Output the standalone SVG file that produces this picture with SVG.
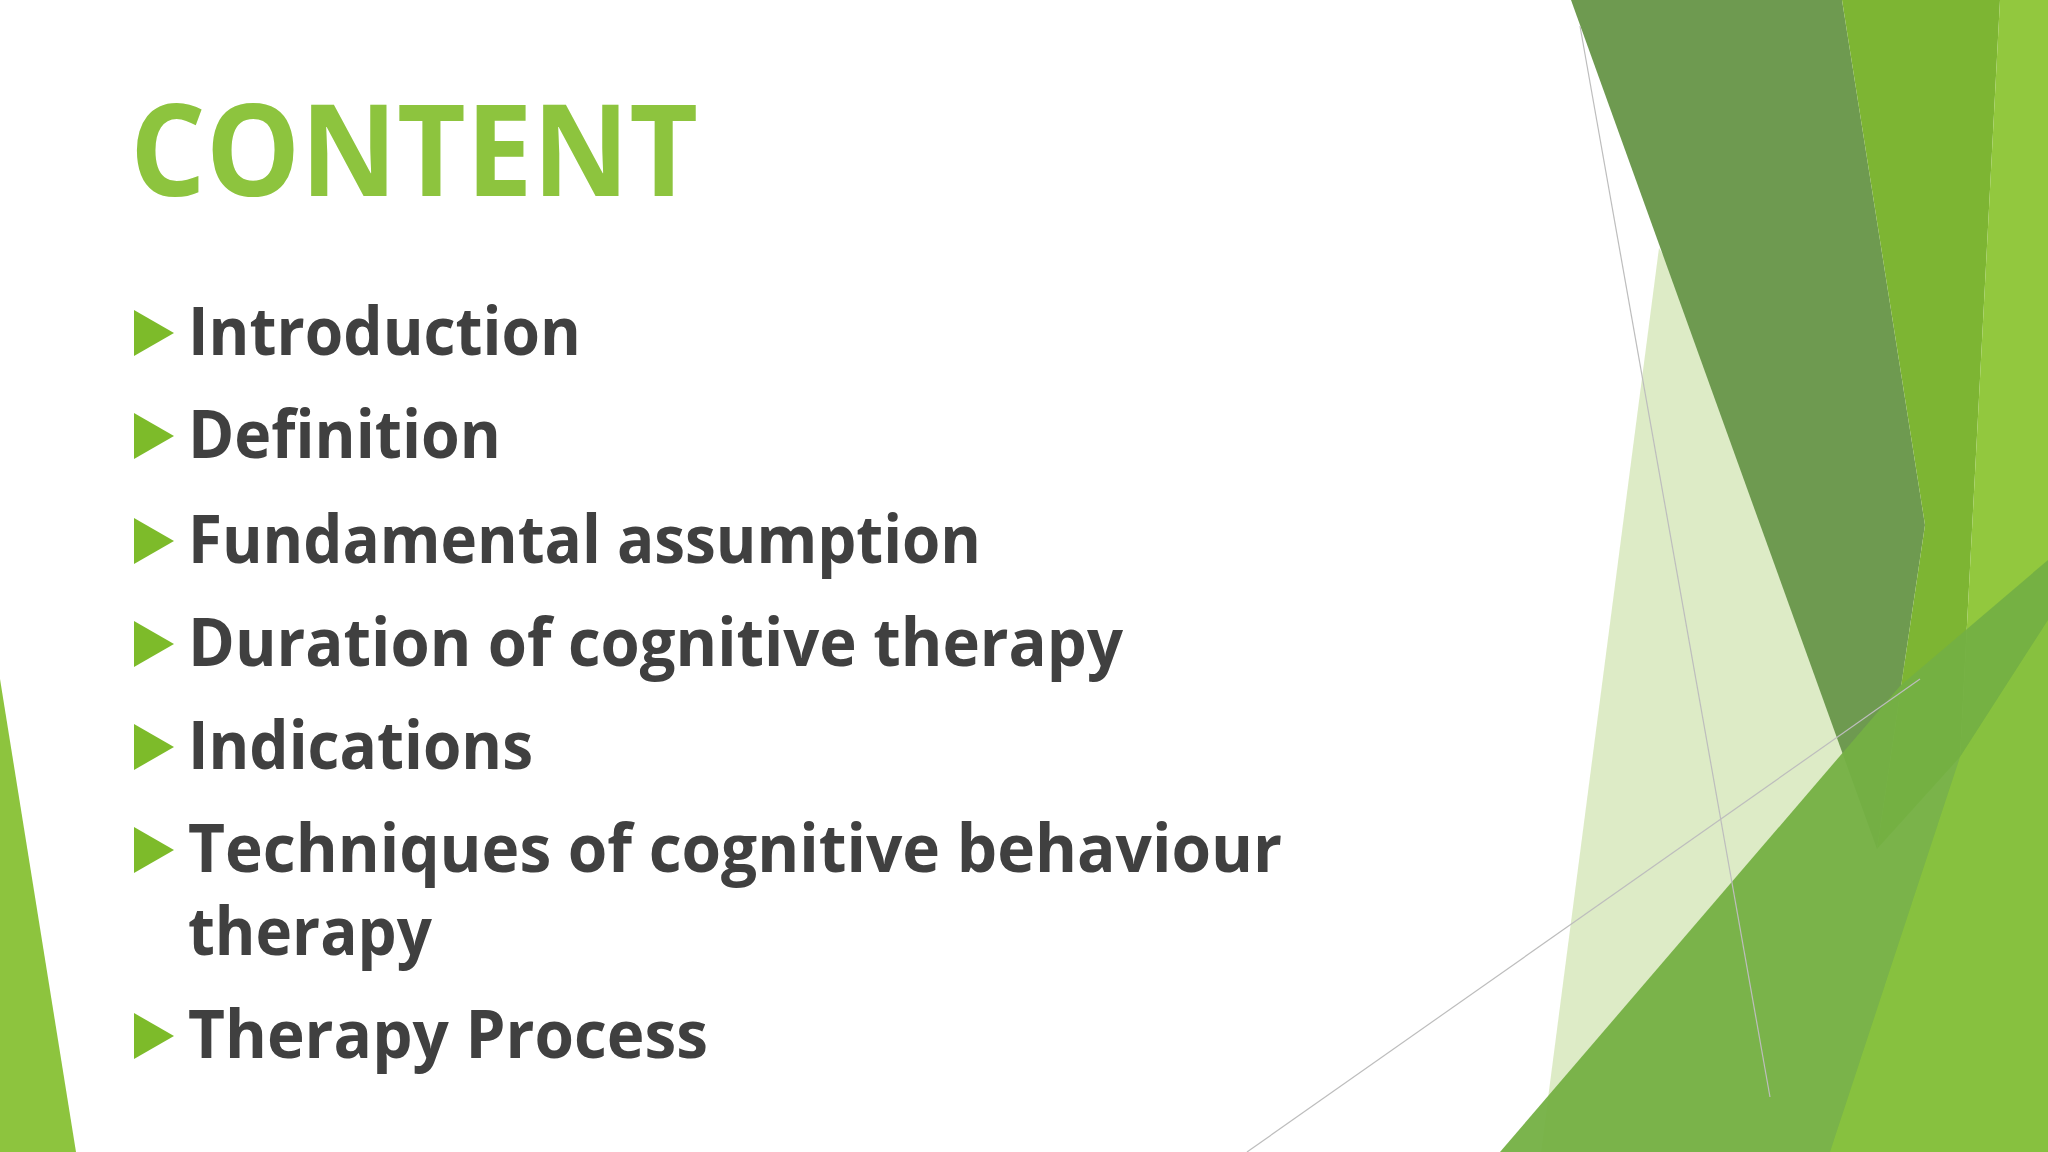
<svg xmlns="http://www.w3.org/2000/svg" width="2048" height="1152" viewBox="0 0 2048 1152">
<style>
.b{font-family:"Open Sans","Liberation Sans",sans-serif;font-weight:700;font-size:66px;fill:#404040}
.t{fill:#7DBB2A}
</style>
<rect width="2048" height="1152" fill="#ffffff"/>
<polygon points="0,679 0,1152 76,1152" fill="#8DC43E"/>
<polygon points="1659,248 1960,757 1830,1152 1541,1152" fill="#CFE3AE" opacity="0.7"/>
<polygon points="1571,0 1842,0 1925,525 1877,849" fill="#6E9A50"/>
<polygon points="1842,0 2000,0 1960,757 1877,849 1925,525" fill="#7DB533"/>
<polygon points="2000,0 2048,0 2048,1152 1830,1152 1960,757" fill="#92C83E"/>
<polygon points="1500,1152 1900,686 2048,560 2048,1152" fill="#74B043" opacity="0.95"/>
<polygon points="1960,757 2048,620 2048,1152 1830,1152" fill="#8CC63F" opacity="0.8"/>
<g stroke="#BDBDBD" stroke-width="1.2" fill="none">
<line x1="1580" y1="26" x2="1770" y2="1097"/>
<line x1="1247" y1="1152" x2="1920" y2="679"/>
</g>
<text x="130" y="196" font-family="'Open Sans','Liberation Sans',sans-serif" font-weight="700" font-size="128" fill="#8DC43E" textLength="568" lengthAdjust="spacingAndGlyphs">CONTENT</text>
<g class="t">
<polygon points="134,310 174,333 134,356"/>
<polygon points="134,413 174,436 134,459"/>
<polygon points="134,518 174,541 134,564"/>
<polygon points="134,621 174,644 134,667"/>
<polygon points="134,724 174,747 134,770"/>
<polygon points="134,827 174,850 134,873"/>
<polygon points="134,1013 174,1036 134,1059"/>
</g>
<text class="b" x="188" y="355" textLength="393" lengthAdjust="spacingAndGlyphs">Introduction</text>
<text class="b" x="188" y="458" textLength="313" lengthAdjust="spacingAndGlyphs">Definition</text>
<text class="b" x="188" y="563" textLength="793" lengthAdjust="spacingAndGlyphs">Fundamental assumption</text>
<text class="b" x="188" y="666" textLength="935" lengthAdjust="spacingAndGlyphs">Duration of cognitive therapy</text>
<text class="b" x="188" y="769" textLength="345" lengthAdjust="spacingAndGlyphs">Indications</text>
<text class="b" x="188" y="872" textLength="1094" lengthAdjust="spacingAndGlyphs">Techniques of cognitive behaviour</text>
<text class="b" x="188" y="955" textLength="244" lengthAdjust="spacingAndGlyphs">therapy</text>
<text class="b" x="188" y="1058" textLength="520" lengthAdjust="spacingAndGlyphs">Therapy Process</text>
</svg>
